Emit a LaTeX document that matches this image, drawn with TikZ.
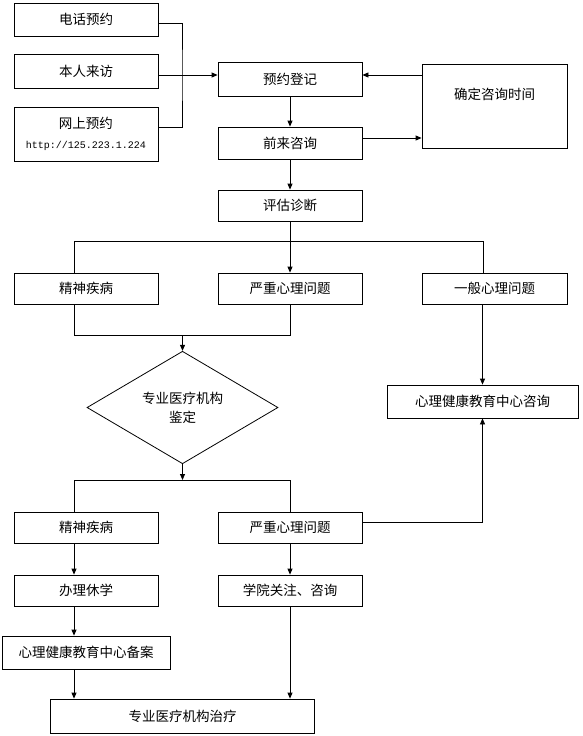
\documentclass[tikz,border=0pt]{standalone}
\usepackage{fontspec}
\newfontfamily\cjk{Noto Sans CJK SC}
\newfontfamily\monof{Liberation Mono}
\usetikzlibrary{shapes.geometric,arrows.meta,calc}
\begin{document}
\begin{tikzpicture}[x=1pt,y=-1pt,
  txt/.style={font=\cjk\fontsize{13.5}{19}\selectfont},
  box/.style={draw,line width=0.8pt,inner sep=0pt,minimum width=144pt,minimum height=32pt,txt},
  ln/.style={line width=0.8pt},
  arr/.style={line width=0.8pt,-{Triangle[length=6pt,width=5pt]}}]
\useasboundingbox[fill=white] (0,0) rectangle (582,736);
\node[box,minimum height=33pt] (phone) at (86,19.5) {电话预约};
\node[box,minimum height=34pt] (visit) at (86,71) {本人来访};
\node[box,minimum height=54pt,align=center] (online) at (86,134) {网上预约\\[1pt]{\monof\fontsize{10}{12}\selectfont http://125.223.1.224}};
\node[box,minimum height=34pt] (reg) at (290,79) {预约登记};
\node[box] (come) at (290,143) {前来咨询};
\node[box,minimum width=145pt,minimum height=84pt,text height=10pt,text depth=24pt] (fix) at (494.5,106) {确定咨询时间};
\node[box,minimum height=31pt] (assess) at (290,205.5) {评估诊断};
\node[box,minimum height=31pt] (ill1) at (86,288.5) {精神疾病};
\node[box,minimum height=31pt] (sev1) at (290,288.5) {严重心理问题};
\node[box,minimum height=31pt,minimum width=145pt] (gen) at (494.5,288.5) {一般心理问题};
\node[draw,diamond,line width=0.8pt,inner sep=0pt,minimum width=191pt,minimum height=83pt,align=center,txt] (dia) at (182.5,407.5) {专业医疗机构\\鉴定};
\node[box,minimum width=191pt,minimum height=33pt] (cons) at (482.5,401.5) {心理健康教育中心咨询};
\node[box,minimum height=31pt] (ill2) at (86,527.5) {精神疾病};
\node[box,minimum height=31pt] (sev2) at (290,527.5) {严重心理问题};
\node[box,minimum height=31pt] (leave) at (86,590.5) {办理休学};
\node[box,minimum height=31pt] (attn) at (290,590.5) {学院关注、咨询};
\node[box,minimum width=168pt,minimum height=33pt] (record) at (86,652.5) {心理健康教育中心备案};
\node[box,minimum width=264pt,minimum height=34pt] (treat) at (182.5,716) {专业医疗机构治疗};
% top connectors
\coordinate (j1) at (182,75);
\draw[ln] ([yshift=-3.5pt]phone.east) -| (j1) |- ([yshift=7pt]online.east);
\draw[arr] ([yshift=-4pt]visit.east) -- ([yshift=4pt]reg.west);
\draw[arr] ([yshift=31pt]fix.west) -- ([yshift=4pt]reg.east);
\draw[arr] ([yshift=5pt]come.east) -- ([yshift=-32pt]fix.west);
\draw[arr] (reg) -- (come);
\draw[arr] (come) -- (assess);
\draw[arr] (assess) -- (sev1);
\coordinate (s1) at (74,241);
\coordinate (s2) at (483,241);
\draw[ln] (s1 |- ill1.north) -- (s1) -- (s2) -- (s2 |- gen.north);
\coordinate (m1) at (74,335);
\coordinate (m2) at (290,335);
\coordinate (m3) at (182.5,335);
\draw[ln] (m1 |- ill1.south) -- (m1) -- (m2) -- (sev1.south);
\draw[arr] (m3) -- (dia.north);
\draw[arr] (cons.north |- gen.south) -- (cons.north);
\coordinate (b1) at (74,480);
\coordinate (b2) at (290,480);
\coordinate (b3) at (182.5,480);
\draw[arr] (dia.south) -- (b3);
\draw[ln] (b1 |- ill2.north) -- (b1) -- (b2) -- (sev2.north);
\draw[arr] ([yshift=5.5pt]sev2.east) -| (cons.south);
\draw[arr] (b1 |- ill2.south) -- (b1 |- leave.north);
\draw[arr] (b1 |- leave.south) -- (b1 |- record.north);
\draw[arr] (b1 |- record.south) -- (b1 |- treat.north);
\draw[arr] (sev2) -- (attn);
\draw[arr] (attn.south) -- (attn.south |- treat.north);
\end{tikzpicture}
\end{document}
